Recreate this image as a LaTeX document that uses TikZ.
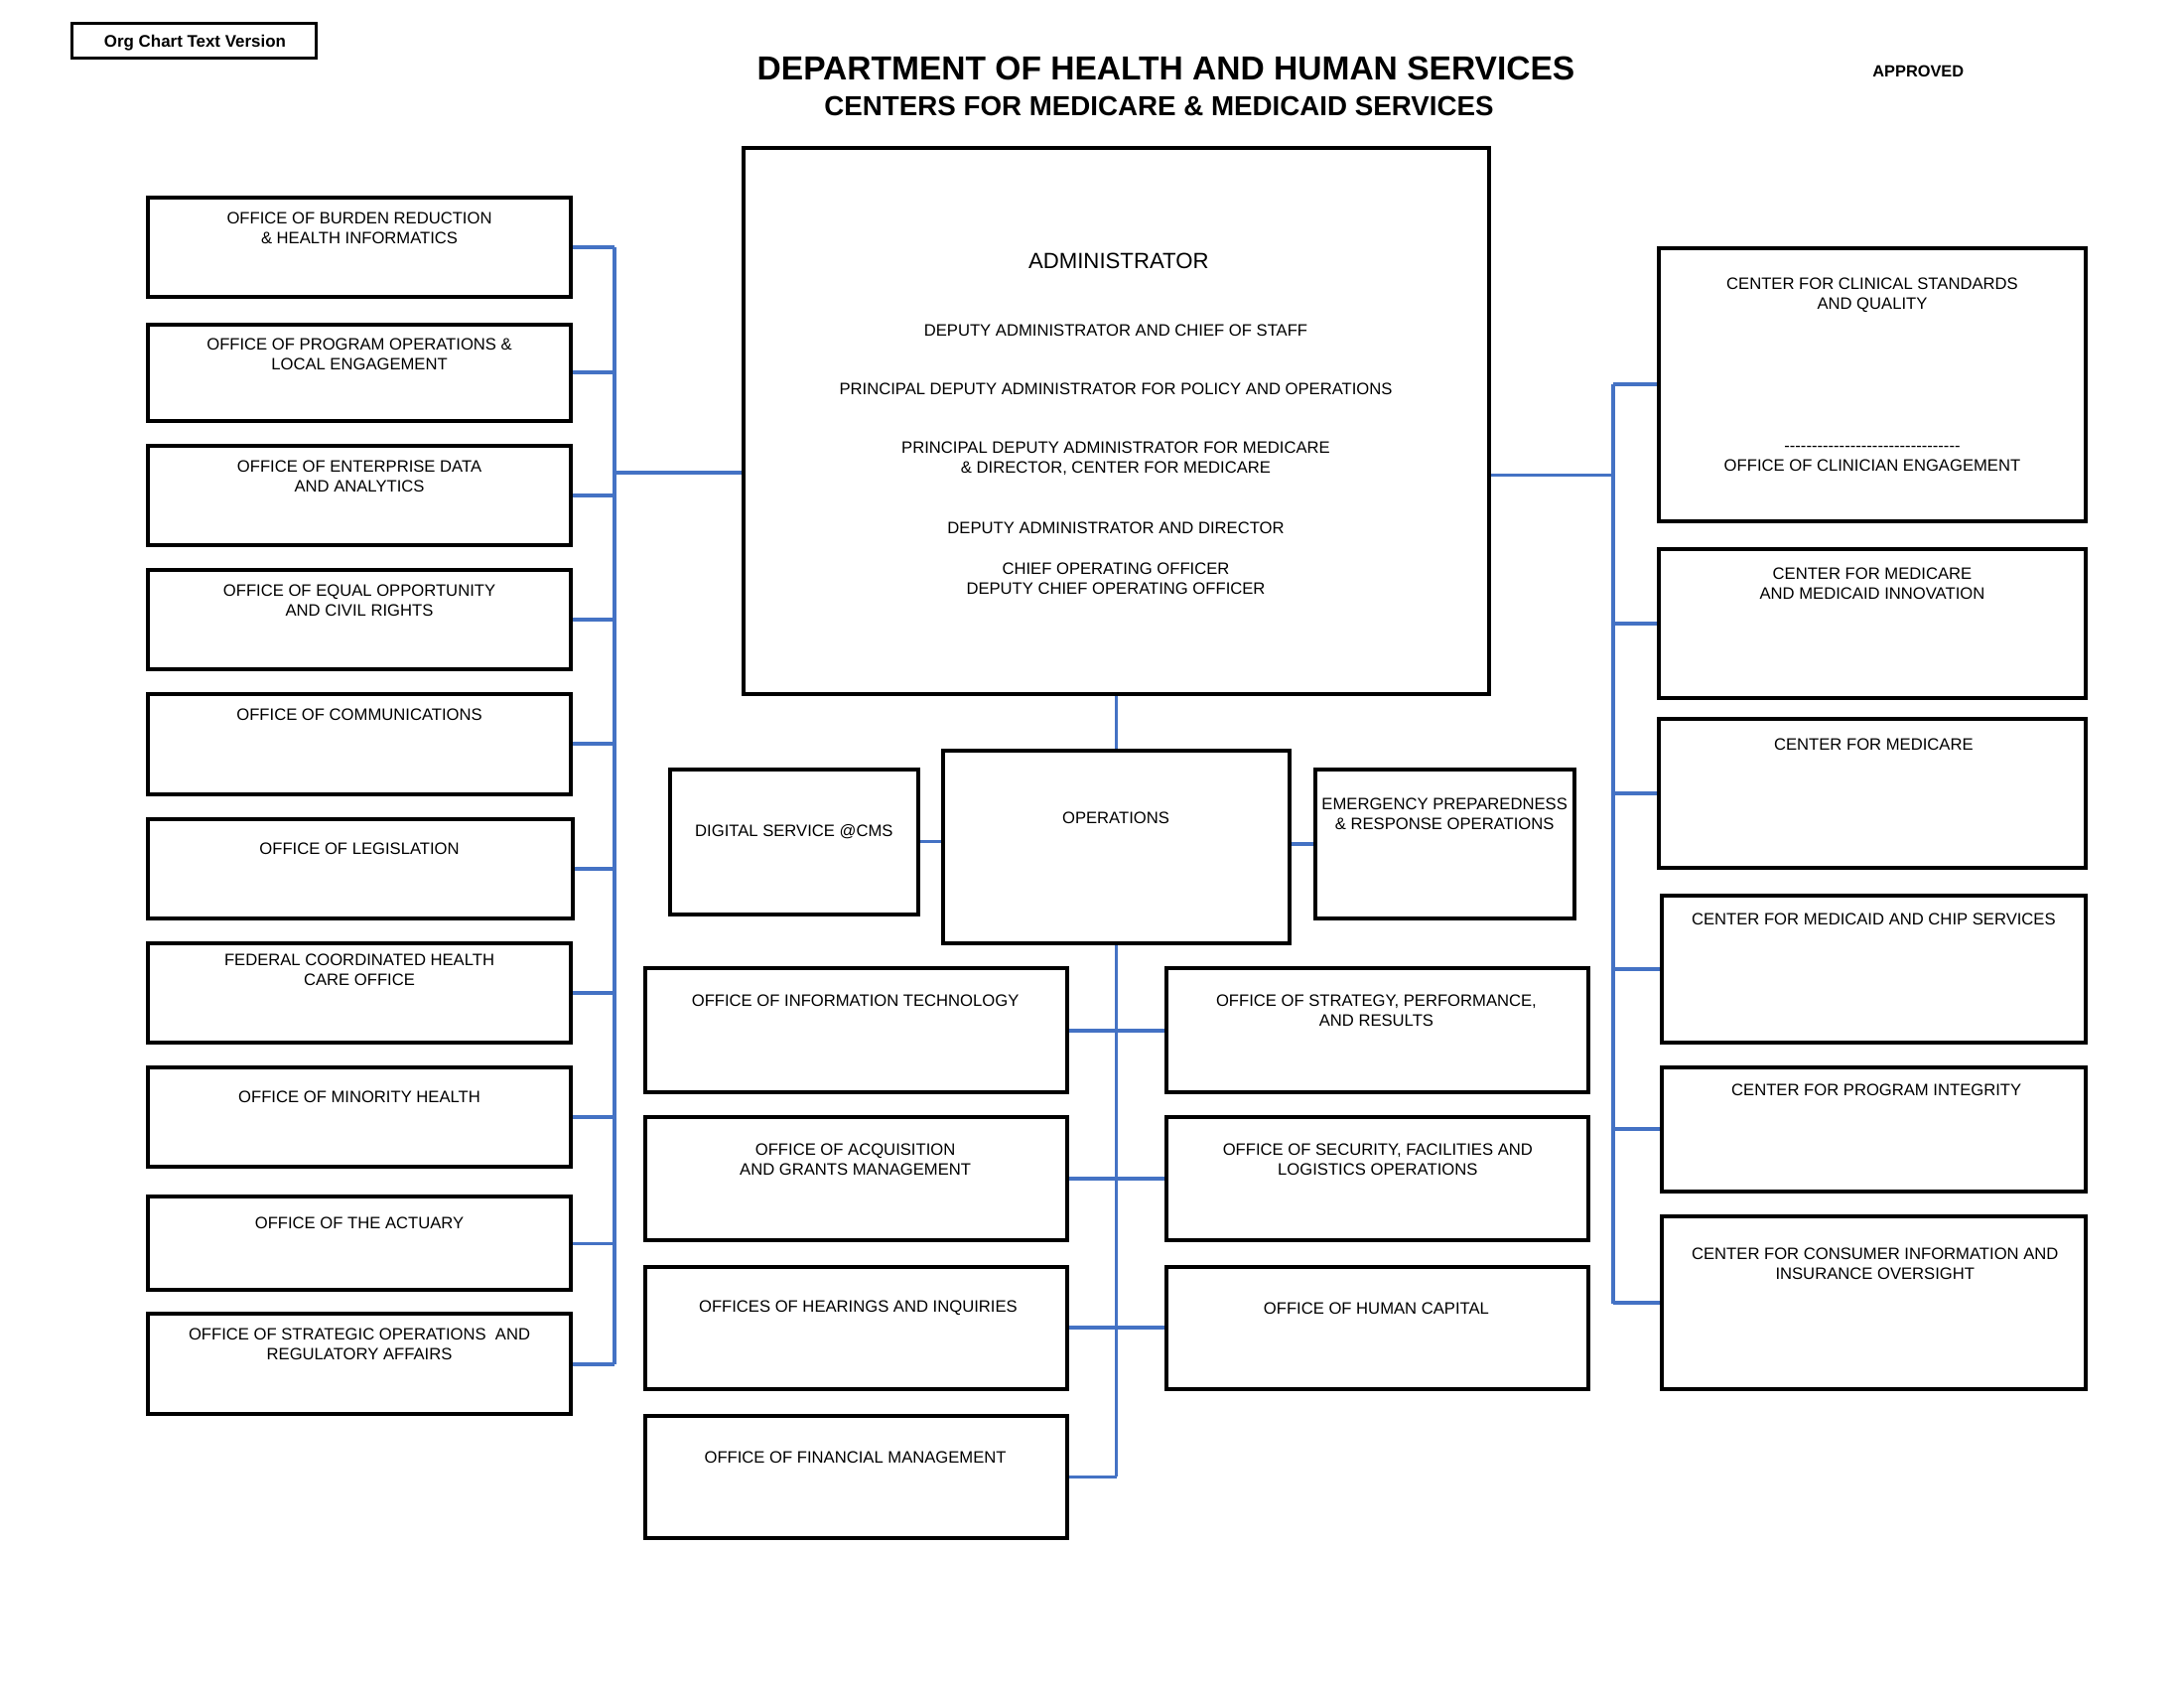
\documentclass[tikz,border=0pt]{standalone}
\usepackage{fontspec}
\setmainfont{Liberation Sans}
\usetikzlibrary{fit}
\definecolor{linkblue}{RGB}{68,114,196}

\begin{document}
\begin{tikzpicture}[x=0.017795cm, y=-0.017795cm,
		orgbox/.style={draw=black, line width=1.45pt, inner sep=0pt},
		boxtext/.style={font=\fontsize{6}{7.2}\selectfont, align=center, inner sep=0pt, yshift=-0.5pt},
		link/.style={draw=linkblue, line width=1.35pt},
		spine/.style={draw=linkblue, line width=1.2pt}]
		\useasboundingbox (0,0) rectangle (1567.8,1211.5);

		% heading
		\node[orgbox, line width=1.1pt, fit={(52,17) (227,42)}] (txtver) {};
		\node[boxtext, font=\bfseries\fontsize{6.1}{7.2}\selectfont] (txtver-t) at (140,29.5) {Org Chart Text Version};
		\node[font=\bfseries\fontsize{12.1}{14}\selectfont] (title) at (837,49) {DEPARTMENT OF HEALTH AND HUMAN SERVICES};
		\node[font=\bfseries\fontsize{10}{12}\selectfont] (subtitle) at (832,76) {CENTERS FOR MEDICARE \& MEDICAID SERVICES};
		\node[font=\bfseries\fontsize{5.9}{7.2}\selectfont] (approved) at (1377,51) {APPROVED};

		% administrator
		\node[orgbox, fit={(534,106) (1069,498)}] (admin) {};
		\node[boxtext, font=\fontsize{8}{9.6}\selectfont] (admin-t) at (803,186) {ADMINISTRATOR};
		\node[boxtext] (dacos) at (801,236) {DEPUTY ADMINISTRATOR AND CHIEF OF STAFF};
		\node[boxtext] (pdapo) at (801,278) {PRINCIPAL DEPUTY ADMINISTRATOR FOR POLICY AND OPERATIONS};
		\node[boxtext] (pdam) at (801,328) {PRINCIPAL DEPUTY ADMINISTRATOR FOR MEDICARE\\\& DIRECTOR, CENTER FOR MEDICARE};
		\node[boxtext] (dad) at (801,378) {DEPUTY ADMINISTRATOR AND DIRECTOR};
		\node[boxtext] (coo) at (801,414) {CHIEF OPERATING OFFICER\\DEPUTY CHIEF OPERATING OFFICER};

		% staff offices, left column
		\node[orgbox, fit={(106,142) (410,213)}] (obrhi) {};
		\node[boxtext] (obrhi-t) at (258,163) {OFFICE OF BURDEN REDUCTION\\\& HEALTH INFORMATICS};
		\node[orgbox, fit={(106,233) (410,302)}] (opole) {};
		\node[boxtext] (opole-t) at (258,253) {OFFICE OF PROGRAM OPERATIONS \&\\LOCAL ENGAGEMENT};
		\node[orgbox, fit={(106,320) (410,391)}] (oeda) {};
		\node[boxtext] (oeda-t) at (258,341) {OFFICE OF ENTERPRISE DATA\\AND ANALYTICS};
		\node[orgbox, fit={(106,409) (410,480)}] (oeocr) {};
		\node[boxtext] (oeocr-t) at (258,430) {OFFICE OF EQUAL OPPORTUNITY\\AND CIVIL RIGHTS};
		\node[orgbox, fit={(106,498) (410,570)}] (oc) {};
		\node[boxtext] (oc-t) at (258,512) {OFFICE OF COMMUNICATIONS};
		\node[orgbox, fit={(106,588) (411,659)}] (ol) {};
		\node[boxtext] (ol-t) at (258,608) {OFFICE OF LEGISLATION};
		\node[orgbox, fit={(106,677) (410,748)}] (fchco) {};
		\node[boxtext] (fchco-t) at (258,695) {FEDERAL COORDINATED HEALTH\\CARE OFFICE};
		\node[orgbox, fit={(106,766) (410,837)}] (omh) {};
		\node[boxtext] (omh-t) at (258,786) {OFFICE OF MINORITY HEALTH};
		\node[orgbox, fit={(106,859) (410,926)}] (oact) {};
		\node[boxtext] (oact-t) at (258,877) {OFFICE OF THE ACTUARY};
		\node[orgbox, fit={(106,943) (410,1015)}] (osora) {};
		\node[boxtext] (osora-t) at (258,964) {OFFICE OF STRATEGIC OPERATIONS\ \ AND\\REGULATORY AFFAIRS};

		% centers, right column
		\node[orgbox, fit={(1191,178) (1497,374)}] (ccsq) {};
		\node[boxtext] (ccsq-t) at (1344,211) {CENTER FOR CLINICAL STANDARDS\\AND QUALITY};
		\node[boxtext] (oce-t) at (1344,328.5) {-{}-{}-{}-{}-{}-{}-{}-{}-{}-{}-{}-{}-{}-{}-{}-{}-{}-{}-{}-{}-{}-{}-{}-{}-{}-{}-{}-{}-{}-{}-{}-\\OFFICE OF CLINICIAN ENGAGEMENT};
		\node[orgbox, fit={(1191,394) (1497,501)}] (cmmi) {};
		\node[boxtext] (cmmi-t) at (1344,418) {CENTER FOR MEDICARE\\AND MEDICAID INNOVATION};
		\node[orgbox, fit={(1191,516) (1497,623)}] (cm) {};
		\node[boxtext] (cm-t) at (1345,533) {CENTER FOR MEDICARE};
		\node[orgbox, fit={(1193,643) (1497,748)}] (cmcs) {};
		\node[boxtext] (cmcs-t) at (1345,659) {CENTER FOR MEDICAID AND CHIP SERVICES};
		\node[orgbox, fit={(1193,766) (1497,855)}] (cpi) {};
		\node[boxtext] (cpi-t) at (1347,781) {CENTER FOR PROGRAM INTEGRITY};
		\node[orgbox, fit={(1193,873) (1497,997)}] (cciio) {};
		\node[boxtext] (cciio-t) at (1346,906) {CENTER FOR CONSUMER INFORMATION AND\\INSURANCE OVERSIGHT};

		% operations
		\node[orgbox, fit={(677,539) (926,677)}] (ops) {};
		\node[boxtext] (ops-t) at (801,586) {OPERATIONS};
		\node[orgbox, fit={(481,552) (659,656)}] (dscms) {};
		\node[boxtext] (dscms-t) at (570,596) {DIGITAL SERVICE @CMS};
		\node[orgbox, fit={(944,552) (1130,659)}] (epro) {};
		\node[boxtext] (epro-t) at (1037,583) {EMERGENCY PREPAREDNESS\\\& RESPONSE OPERATIONS};
		\node[orgbox, fit={(463,695) (766,784)}] (oit) {};
		\node[boxtext] (oit-t) at (614,717) {OFFICE OF INFORMATION TECHNOLOGY};
		\node[orgbox, fit={(463,802) (766,890)}] (oagm) {};
		\node[boxtext] (oagm-t) at (614,831) {OFFICE OF ACQUISITION\\AND GRANTS MANAGEMENT};
		\node[orgbox, fit={(463,909) (766,997)}] (ohi) {};
		\node[boxtext] (ohi-t) at (616,938) {OFFICES OF HEARINGS AND INQUIRIES};
		\node[orgbox, fit={(463,1016) (766,1104)}] (ofm) {};
		\node[boxtext] (ofm-t) at (614,1045) {OFFICE OF FINANCIAL MANAGEMENT};
		\node[orgbox, fit={(837,695) (1140,784)}] (ospr) {};
		\node[boxtext] (ospr-t) at (988,724) {OFFICE OF STRATEGY, PERFORMANCE,\\AND RESULTS};
		\node[orgbox, fit={(837,802) (1140,890)}] (osflo) {};
		\node[boxtext] (osflo-t) at (989,831) {OFFICE OF SECURITY, FACILITIES AND\\LOGISTICS OPERATIONS};
		\node[orgbox, fit={(837,909) (1140,997)}] (ohc) {};
		\node[boxtext] (ohc-t) at (988,938) {OFFICE OF HUMAN CAPITAL};

		% left bus
		\coordinate (lbus-top) at (441,177.5);
		\coordinate (lbus-bot) at (441,979);
		\coordinate (lbus-adm) at (441,339);
		\draw[spine] (lbus-top) -- (lbus-bot);
		\draw[link] (lbus-adm) -- (lbus-adm -| admin.west);
		\foreach \n in {obrhi, opole, oeda, oeocr, oc, ol, fchco, omh, oact, osora}
			\draw[link] (\n.east) -- (\n.east -| lbus-top);

		% right bus
		\coordinate (rbus-top) at (1158,276);
		\coordinate (rbus-bot) at (1158,936);
		\coordinate (rbus-adm) at (1158,341);
		\draw[spine] (rbus-top) -- (rbus-bot);
		\draw[link] (rbus-adm -| admin.east) -- (rbus-adm);
		\foreach \n in {ccsq, cmmi, cm, cmcs, cpi, cciio}
			\draw[link] (\n.west) -- (\n.west -| rbus-top);

		% operations links
		\draw[spine, line width=0.9pt] (admin.south) -- (ops.north);
		\draw[link] (dscms.east) -- (dscms.east -| ops.west);
		\draw[link] (epro.west) -- (epro.west -| ops.east);
		\draw[spine] (ops.south) -- (ops.south |- ofm.east);
		\draw[link] (oit.east) -- (ospr.west);
		\draw[link] (oagm.east) -- (osflo.west);
		\draw[link] (ohi.east) -- (ohc.west);
		\draw[link] (ofm.east) -- (ofm.east -| ops.south);
	\end{tikzpicture}
\end{document}
